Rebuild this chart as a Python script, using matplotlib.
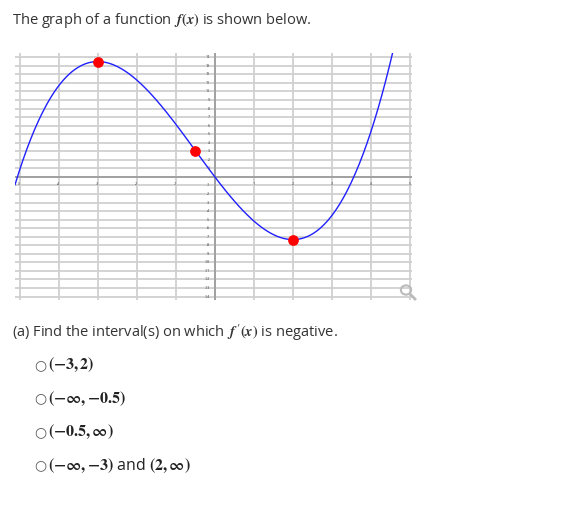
import matplotlib

matplotlib.use("Agg")
import matplotlib.pyplot as plt
import numpy as np

# f(x) = x^3/3 + x^2/2 - 6x (max at -3, min at 2)
coeffs = [1 / 3, 1 / 2, -6, 0]
point_x = [-3, -0.5, 2]
x_ticks = list(range(-5, 6))
y_ticks = list(range(-14, 15))
options = [r"$\mathbf{({-}3,2)}$", r"$\mathbf{({-}\infty,{-}0.5)}$",
           r"$\mathbf{({-}0.5,\infty)}$", r"$\mathbf{({-}\infty,{-}3)}$ and $\mathbf{(2,\infty)}$"]

plt.rcParams["font.family"] = ["Open Sans", "DejaVu Sans"]
plt.rcParams["mathtext.fontset"] = "stix"
fig = plt.figure(figsize=(5.67, 5.14), dpi=100)

ax = fig.add_axes([15 / 567, (514 - 300) / 514, 397 / 567, 247 / 514])
ax.set_xlim(-5.12, 5.05)
ax.set_ylim(-14.4, 14.5)
for t in x_ticks:
    ax.axvline(t, color="#d0d0d0", lw=1.3, zorder=0)
for t in y_ticks:
    ax.axhline(t, color="#d0d0d0", lw=1.3, zorder=0)
ax.axhline(0, color="#999999", lw=1.2, zorder=1)
ax.axvline(0, color="#999999", lw=1.2, zorder=1)
for t in x_ticks:
    if t != 0:
        ax.text(t, -0.6, str(t), fontsize=2.5, ha="center", va="top", color="#333")
for t in y_ticks:
    if t != 0:
        ax.text(-0.12, t, str(t), fontsize=2.5, ha="right", va="center", color="#333")

xs = np.linspace(-5.12, 4.7, 400)
ys = np.polyval(coeffs, xs)
ax.plot(xs, ys, color="#2020ff", lw=1, clip_on=True)
ax.scatter(point_x, np.polyval(coeffs, point_x), s=45, color="red", zorder=5)
for s in ax.spines.values():
    s.set_visible(False)
ax.set_xticks([])
ax.set_yticks([])

# magnifier icon
fig.patches.append(matplotlib.patches.Circle((406 / 567, 1 - 290 / 514), 0.009,
                                             transform=fig.transFigure, fill=False,
                                             ec="#bbbbbb", lw=1.5))
fig.add_artist(matplotlib.lines.Line2D([411 / 567, 415 / 567], [1 - 295 / 514, 1 - 299 / 514],
                                       color="#bbbbbb", lw=2))

fig.text(12 / 567, 1 - 20 / 514, r"The graph of a function $\,\mathbfit{f}\mathbf{(}\mathbfit{x}\mathbf{)}$ is shown below.",
         fontsize=10.5, va="center", color="#333")
fig.text(12 / 567, 1 - 333 / 514, r"(a) Find the interval(s) on which $\,\mathbfit{f}\,\mathbf{'(}\mathbfit{x}\mathbf{)}$ is negative.",
         fontsize=10.5, va="center", color="#333")
for i, opt in enumerate(options):
    y = 1 - (365 + i * 33.5) / 514
    fig.text(34 / 567, y, "○", fontsize=10, va="center", color="#555",
             family=["DejaVu Sans"])
    fig.text(48 / 567, y, opt, fontsize=11.5, va="center", color="#222")

fig.savefig("out.png", dpi=100)
